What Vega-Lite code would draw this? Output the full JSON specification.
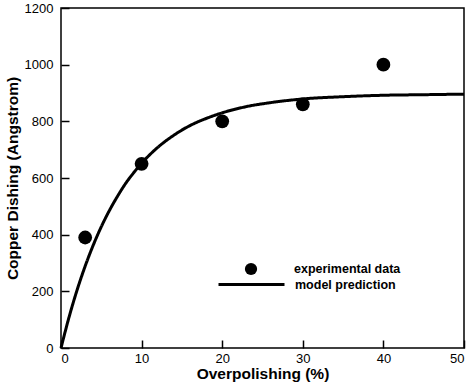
{
  "$schema": "https://vega.github.io/schema/vega-lite/v6.json",
  "width": 403,
  "height": 340,
  "autosize": "none",
  "padding": {"left": 61, "top": 8, "right": 10, "bottom": 35},
  "background": "white",
  "config": {
    "view": {"stroke": "black", "strokeWidth": 1.5},
    "font": "Liberation Sans",
    "axis": {
      "grid": false,
      "domain": false,
      "tickColor": "black",
      "tickSize": -8,
      "tickWidth": 1.5,
      "labelFont": "Liberation Sans",
      "labelFontSize": 13,
      "labelColor": "black",
      "titleFont": "Liberation Sans",
      "titleFontSize": 15.5,
      "titleFontWeight": "bold",
      "titleColor": "black"
    }
  },
  "datasets": {
    "measured": [
      {"overpolishing": 3, "dishing": 390, "measurement": "experimental data"},
      {"overpolishing": 10, "dishing": 650, "measurement": "experimental data"},
      {"overpolishing": 20, "dishing": 800, "measurement": "experimental data"},
      {"overpolishing": 30, "dishing": 860, "measurement": "experimental data"},
      {"overpolishing": 40, "dishing": 1000, "measurement": "experimental data"}
    ],
    "model": [
      {"overpolishing": 0, "dishing": 0, "curve": "model prediction"},
      {"overpolishing": 1, "dishing": 109, "curve": "model prediction"},
      {"overpolishing": 2, "dishing": 205, "curve": "model prediction"},
      {"overpolishing": 3, "dishing": 289, "curve": "model prediction"},
      {"overpolishing": 4, "dishing": 363, "curve": "model prediction"},
      {"overpolishing": 5, "dishing": 428, "curve": "model prediction"},
      {"overpolishing": 6, "dishing": 485, "curve": "model prediction"},
      {"overpolishing": 7, "dishing": 535, "curve": "model prediction"},
      {"overpolishing": 8, "dishing": 580, "curve": "model prediction"},
      {"overpolishing": 9, "dishing": 618, "curve": "model prediction"},
      {"overpolishing": 10, "dishing": 652, "curve": "model prediction"},
      {"overpolishing": 12, "dishing": 708, "curve": "model prediction"},
      {"overpolishing": 14, "dishing": 751, "curve": "model prediction"},
      {"overpolishing": 16, "dishing": 785, "curve": "model prediction"},
      {"overpolishing": 18, "dishing": 810, "curve": "model prediction"},
      {"overpolishing": 20, "dishing": 830, "curve": "model prediction"},
      {"overpolishing": 23, "dishing": 852, "curve": "model prediction"},
      {"overpolishing": 26, "dishing": 866, "curve": "model prediction"},
      {"overpolishing": 30, "dishing": 879, "curve": "model prediction"},
      {"overpolishing": 35, "dishing": 887, "curve": "model prediction"},
      {"overpolishing": 40, "dishing": 892, "curve": "model prediction"},
      {"overpolishing": 45, "dishing": 894, "curve": "model prediction"},
      {"overpolishing": 50, "dishing": 896, "curve": "model prediction"}
    ]
  },
  "encoding": {
    "x": {
      "field": "overpolishing",
      "type": "quantitative",
      "scale": {"domain": [0, 50], "nice": false},
      "axis": {"title": "Overpolishing (%)", "values": [0, 10, 20, 30, 40, 50], "format": "d", "labelPadding": 12, "titleBaseline": "alphabetic", "titleY": 30}
    },
    "y": {
      "field": "dishing",
      "type": "quantitative",
      "scale": {"domain": [0, 1200], "nice": false},
      "axis": {"title": "Copper Dishing (Angstrom)", "values": [0, 200, 400, 600, 800, 1000, 1200], "format": "d", "labelPadding": 16, "titleX": -41}
    }
  },
  "layer": [
    {
      "data": {"name": "model"},
      "mark": {"type": "line", "color": "black", "strokeWidth": 3, "interpolate": "monotone"},
      "encoding": {
        "strokeDash": {
          "field": "curve",
          "type": "nominal",
          "scale": {"range": [[1, 0]]},
          "legend": {
            "orient": "none",
            "legendX": 156,
            "legendY": 242,
            "title": null,
            "padding": 0,
            "symbolSize": 4356,
            "symbolStrokeWidth": 3,
            "symbolStrokeColor": "black",
            "labelOffset": 9,
            "labelFont": "Liberation Sans",
            "labelFontSize": 12.5,
            "labelFontWeight": "bold",
            "labelColor": "black"
          }
        }
      }
    },
    {
      "data": {"name": "measured"},
      "mark": {"type": "point", "filled": true, "color": "black", "size": 190, "opacity": 1},
      "encoding": {
        "shape": {
          "field": "measurement",
          "type": "nominal",
          "scale": {"range": ["circle"]},
          "legend": {
            "orient": "none",
            "legendX": 183,
            "legendY": 254,
            "title": null,
            "padding": 0,
            "symbolSize": 150,
            "symbolFillColor": "black",
            "symbolOpacity": 1,
            "labelOffset": 36,
            "labelFont": "Liberation Sans",
            "labelFontSize": 12.5,
            "labelFontWeight": "bold",
            "labelColor": "black"
          }
        }
      }
    }
  ]
}
